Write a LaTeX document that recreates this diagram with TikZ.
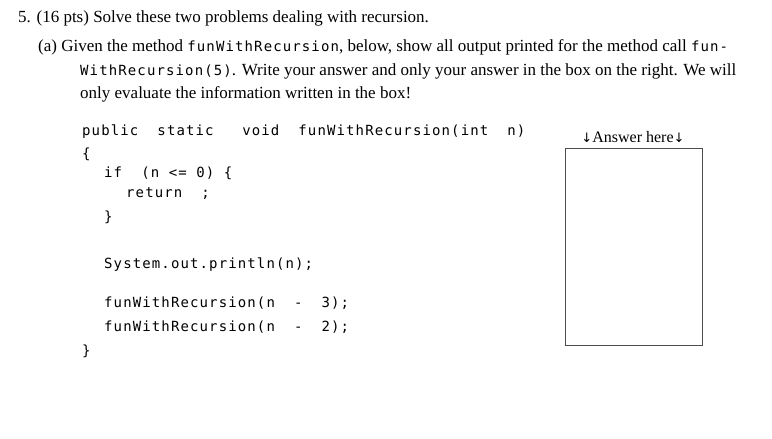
\documentclass[tikz,border=0pt]{standalone}
\usepackage{fontspec}
\setmainfont{Liberation Serif}
\setmonofont[LetterSpace=8]{DejaVu Sans Mono}
\newfontfamily\arrowfont{DejaVu Sans}
\tikzset{
  txt/.style={anchor=base west, inner sep=0pt, font=\fontsize{17}{20}\selectfont},
  code/.style={anchor=base west, inner sep=0pt, font=\fontsize{14}{17}\ttfamily},
  answerbox/.style={draw=black!70, line width=0.8pt}
}
\begin{document}
\begin{tikzpicture}[x=1pt, y=-1pt]
  \useasboundingbox (0,0) rectangle (772,439);
  % question text
  \node[txt] (title) at (18,22) {5. (16 pts) Solve these two problems dealing with recursion.};
  \node[txt] (parta) at (38,51) {(a) Given the method \texttt{\fontsize{14}{16}\selectfont funWithRecursion}, below, show all output printed for the method call \texttt{\fontsize{14}{16}\selectfont fun-}};
  \node[txt] (partb) at (80,75) {\texttt{\fontsize{14}{16}\selectfont WithRecursion(5)}. Write your answer and only your answer in the box on the right. We will};
  \node[txt] (partc) at (80,98) {only evaluate the information written in the box!};
  % code
  \node[code] (head) at (82,135) {public\ \ static\ \ \ void\ \ funWithRecursion(int\ \ n)};
  \node[code] (open) at (82,158) {\{};
  \node[code] (cond) at (104,177) {if\ \ (n <= 0)\ \{};
  \node[code] (ret) at (126,197) {return\ \ ;};
  \node[code] (close) at (104,221) {\}};
  \node[code] (print) at (104,268) {System.out.println(n);};
  \node[code] (callA) at (104,307) {funWithRecursion(n\ \ -\ \ 3);};
  \node[code] (callB) at (104,331) {funWithRecursion(n\ \ -\ \ 2);};
  \node[code] (end) at (82,355) {\}};
  % answer box
  \node[anchor=base, inner sep=0pt, font=\fontsize{16}{19}\selectfont] (label) at (633,142)
    {{\arrowfont\fontsize{13}{15}\selectfont ↓}Answer here{\arrowfont\fontsize{13}{15}\selectfont ↓}};
  \draw[answerbox] (565,148) rectangle (702,345);
\end{tikzpicture}
\end{document}
